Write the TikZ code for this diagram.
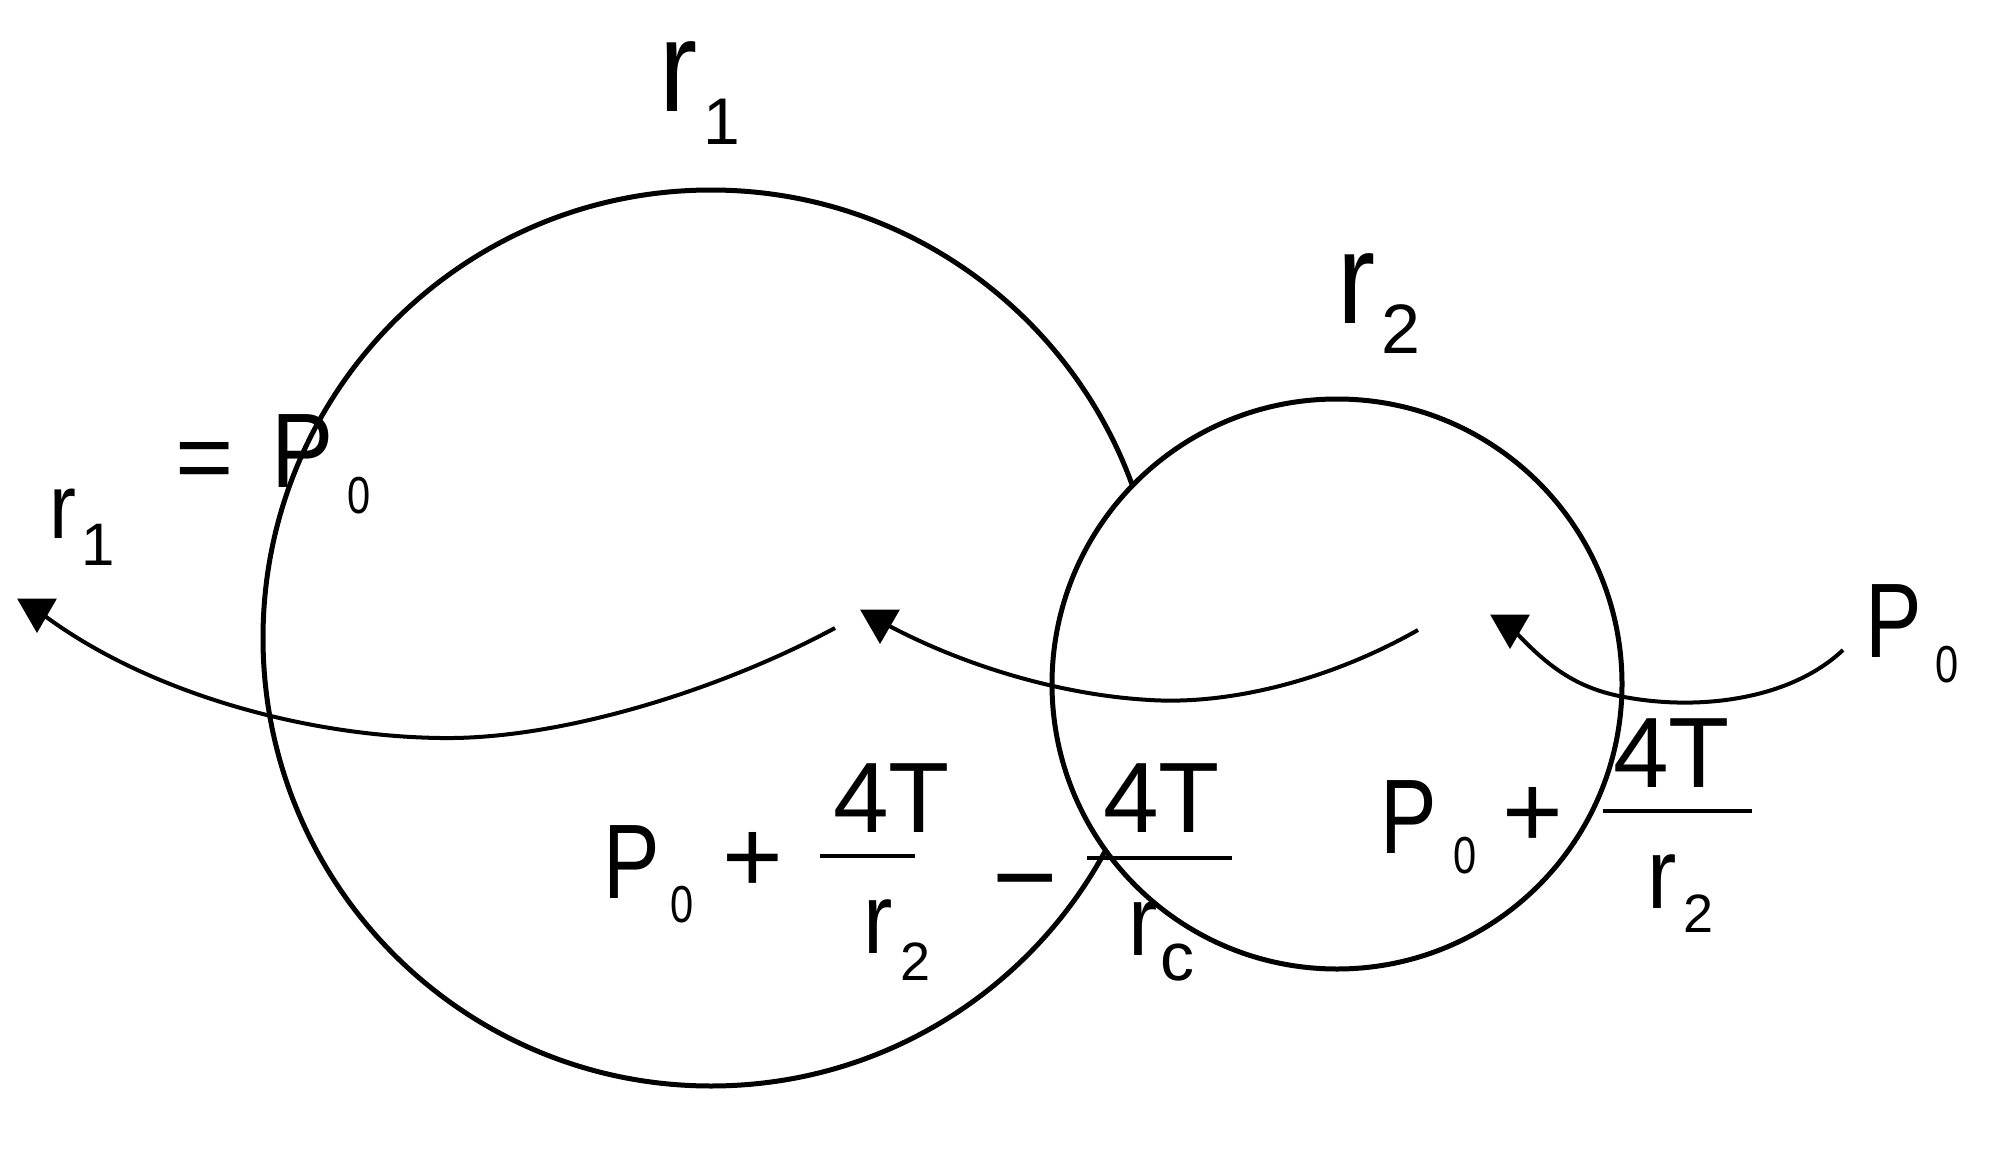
\documentclass[tikz,border=0pt]{standalone}
\usepackage{fontspec}
\setmainfont{Liberation Sans}
\newfontfamily\narrowf{Liberation Sans}[FakeStretch=0.8]
\newfontfamily\semif{Liberation Sans}[FakeStretch=0.88]
\usetikzlibrary{shapes.geometric}
\newcommand\myfs[1]{\fontsize{#1}{#1}\selectfont}
\begin{document}
\begin{tikzpicture}[x=0.5pt,y=-0.5pt,
  ring/.style={line width=2.5pt},
  flow/.style={line width=2pt},
  fbar/.style={line width=1.6pt},
  lbl/.style={anchor=base west,inner sep=0pt,outer sep=0pt},
  sym/.style={anchor=center,inner sep=0pt,outer sep=0pt,font=\myfs{52}},
  tri/.style={regular polygon,regular polygon sides=3,shape border rotate=180,
              fill=black,draw=none,minimum size=23pt,inner sep=0pt},
  big/.style={lbl,font=\narrowf\myfs{53}},
  num/.style={lbl,font=\myfs{50}},
  den/.style={lbl,font=\semif\myfs{50}},
  sub/.style={lbl,font=\narrowf\myfs{26}}]
\path[use as bounding box] (0,0) rectangle (1992,1172);

% circles
\draw[ring] (711,638) circle[radius=448];
\filldraw[ring,fill=white] (1337,684) circle[radius=285];

% flow curves
\coordinate (sL) at (835,628);
\coordinate (sM) at (1418,630);
\coordinate (sR) at (1843,650);
\node[tri] (tL) at (37,610) {};
\node[tri] (tM) at (880,621) {};
\node[tri] (tR) at (1510,626) {};
\draw[flow] (sL) .. controls (720,690) and (560,740) .. (440,738)
            .. controls (300,736) and (140,690) .. (tL.center);
\draw[flow] (sM) .. controls (1330,680) and (1230,705) .. (1150,700)
            .. controls (1060,695) and (960,665) .. (tM.center);
\draw[flow] (sR) .. controls (1790,700) and (1700,710) .. (1630,698)
            .. controls (1580,690) and (1550,670) .. (tR.center);

% radius labels
\node[lbl,font=\semif\myfs{65}] (r1t) at (659,112) {r};
\node[lbl,font=\myfs{33}] (r1ts) at (703,145) {1};
\node[lbl,font=\semif\myfs{65}] (r2t) at (1337,323) {r};
\node[lbl,font=\myfs{35}] (r2ts) at (1381,353) {2};
\node[lbl,font=\semif\myfs{46}] (r1l) at (49,538) {r};
\node[lbl,font=\myfs{30}] (r1ls) at (81,565) {1};

% = P0 (top left)
\node[sym,font=\myfs{50}] (eq) at (205,467) {=};
\node[lbl,font=\semif\myfs{53}] (Ptl) at (271,487) {P};
\node[sub] (Ptls) at (347,513) {0};

% P0 (right)
\node[big] (Pr) at (1865,657) {P};
\node[sub] (Prs) at (1935,682) {0};

% P0 + 4T/r2 - 4T/rc (bottom left)
\node[big] (Pa) at (603,898) {P};
\node[sub] (Pas) at (670,922) {0};
\node[sym] (plusa) at (753,862) {+};
\node[num] (na) at (833,832) {4T};
\coordinate (ba1) at (820,856);
\coordinate (ba2) at (915,856);
\draw[fbar] (ba1) -- (ba2);
\node[den] (da) at (863,953) {r};
\node[lbl,font=\myfs{27}] (das) at (900,980) {2};
\node[sym,font=\myfs{56}] (minus) at (1025,895) {−};
\node[num] (nb) at (1103,832) {4T};
\coordinate (bb1) at (1087,858);
\coordinate (bb2) at (1232,858);
\draw[fbar] (bb1) -- (bb2);
\node[den] (db) at (1128,955) {r};
\node[lbl,font=\myfs{34}] (dbs) at (1160,980) {c};

% P0 + 4T/r2 (right)
\node[big] (Pc) at (1380,853) {P};
\node[sub] (Pcs) at (1453,873) {0};
\node[sym] (plusc) at (1533,817) {+};
\node[num] (nc) at (1613,787) {4T};
\coordinate (bc1) at (1603,811);
\coordinate (bc2) at (1752,811);
\draw[fbar] (bc1) -- (bc2);
\node[den] (dc) at (1647,908) {r};
\node[lbl,font=\myfs{27}] (dcs) at (1683,932) {2};
\end{tikzpicture}
\end{document}
